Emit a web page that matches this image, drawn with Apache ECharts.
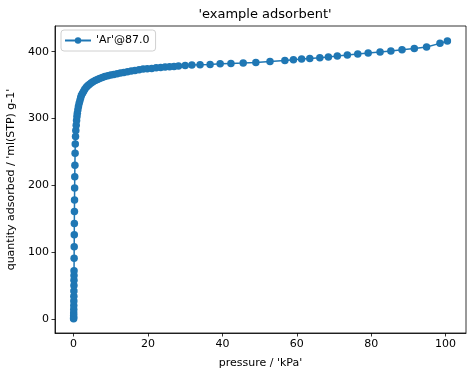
<!DOCTYPE html>
<html>
<head>
<meta charset="utf-8">
<script src="https://cdn.jsdelivr.net/npm/echarts@6/dist/echarts.min.js"></script>
<style>
html,body{margin:0;padding:0;background:#fff;}
#chart{width:474px;height:377px;}
</style>
</head>
<body>
<div id="chart"></div>
<script>
// isotherm data
var pressure = [
    0.0, 0.01, 0.02, 0.03, 0.04, 0.05, 0.06, 0.07, 0.08, 0.09, 0.10, 0.11, 0.12,
    0.14, 0.16, 0.18, 0.20, 0.22, 0.25, 0.28, 0.31, 0.35, 0.40, 0.45, 0.52,
    0.6, 0.7, 0.8, 0.9, 1.0, 1.15, 1.3, 1.5, 1.7, 1.9, 2.1, 2.4, 2.7, 3.0, 3.4, 3.8,
    4.2, 4.7, 5.2, 5.8, 6.4, 7.0, 7.7, 8.4, 9.2, 10.0, 10.8, 11.7, 12.6, 13.5,
    14.5, 15.5, 16.5, 17.6, 18.7, 19.8, 21.0, 22.2, 23.4, 24.6, 25.8, 27.0, 28.2,
    30.0, 31.8, 34.0, 36.7, 39.4, 42.3, 45.6, 49.0, 52.8, 56.8, 59.1, 61.3, 63.5,
    66.2, 68.5, 70.9, 73.6, 76.4, 79.2, 82.4, 85.3, 88.3, 91.6, 94.9, 98.5, 100.5
];
var loading = [
    0.5, 2, 5, 9, 14, 20, 27, 34, 42, 50, 58, 65, 72,
    91, 108, 126, 143, 161, 178, 196, 213, 230, 248, 262, 273,
    282, 290, 297, 303, 308, 313, 318, 323, 327, 331, 335, 338, 341, 344, 347, 349,
    351, 353, 355, 357, 358.5, 360, 361.5, 363, 364, 365, 366, 367, 368, 369,
    370, 371, 372, 373, 374, 374.5, 375, 376, 376.5, 377, 377.5, 378, 378.5,
    379.5, 380, 380.5, 381, 382, 382.5, 383, 384, 385.5, 387, 388, 389, 390,
    391, 392, 393.5, 395, 396.5, 398, 399.5, 401, 403, 405, 407, 412.5, 416
];
var xTicks = [0, 20, 40, 60, 80, 100];
var yTicks = [0, 100, 200, 300, 400];
var seriesName = "'Ar'@87.0";

var chart = echarts.init(document.getElementById('chart'));

var points = [];
for (var i = 0; i < pressure.length; i++) {
    points.push([pressure[i], loading[i]]);
}

var font = 'DejaVu Sans';
var option = {
    animation: false,
    backgroundColor: '#fff',
    title: {
        text: "'example adsorbent'",
        left: 260, top: 3,
        textAlign: 'center',
        textStyle: { fontFamily: font, fontSize: 13, fontWeight: 'normal', color: '#000' }
    },
    legend: {
        left: 61, top: 30,
        padding: [5, 6, 5, 3],
        itemWidth: 26, itemHeight: 8,
        itemGap: 6,
        borderColor: '#d0d0d0', borderWidth: 1, borderRadius: 3,
        backgroundColor: 'rgba(255,255,255,0.8)',
        textStyle: { fontFamily: font, fontSize: 11, color: '#000' },
        data: [seriesName]
    },
    grid: {
        left: 55, right: 8, top: 26, bottom: 44,
        outerBoundsMode: 'none',
        containLabel: false,
        show: true, borderColor: '#000', borderWidth: 0.8, backgroundColor: 'transparent'
    },
    xAxis: {
        type: 'value',
        min: -5, max: 105.5,
        name: "pressure / 'kPa'",
        nameLocation: 'middle', nameGap: 25,
        nameTextStyle: { fontFamily: font, fontSize: 11, color: '#000' },
        axisLine: { show: true, onZero: false, lineStyle: { color: '#000', width: 0.8 } },
        splitLine: { show: false },
        axisTick: { show: true, inside: false, length: 3.5, lineStyle: { color: '#000', width: 0.8 }, customValues: xTicks },
        axisLabel: { fontFamily: font, fontSize: 11, color: '#000', margin: 6, customValues: xTicks }
    },
    yAxis: {
        type: 'value',
        min: -21, max: 438.5,
        name: "quantity adsorbed / 'ml(STP) g-1'",
        nameLocation: 'middle', nameGap: 35,
        nameTextStyle: { fontFamily: font, fontSize: 11, color: '#000' },
        axisLine: { show: true, onZero: false, lineStyle: { color: '#000', width: 0.8 } },
        splitLine: { show: false },
        axisTick: { show: true, inside: false, length: 3.5, lineStyle: { color: '#000', width: 0.8 }, customValues: yTicks },
        axisLabel: { fontFamily: font, fontSize: 11, color: '#000', margin: 6, customValues: yTicks }
    },
    series: [{
        name: seriesName,
        type: 'line',
        data: points,
        symbol: 'circle',
        symbolSize: 7.5,
        showAllSymbol: true,
        color: '#1f77b4',
        lineStyle: { width: 1.5, color: '#1f77b4' },
        itemStyle: { color: '#1f77b4' }
    }]
};

chart.setOption(option);
</script>
</body>
</html>
